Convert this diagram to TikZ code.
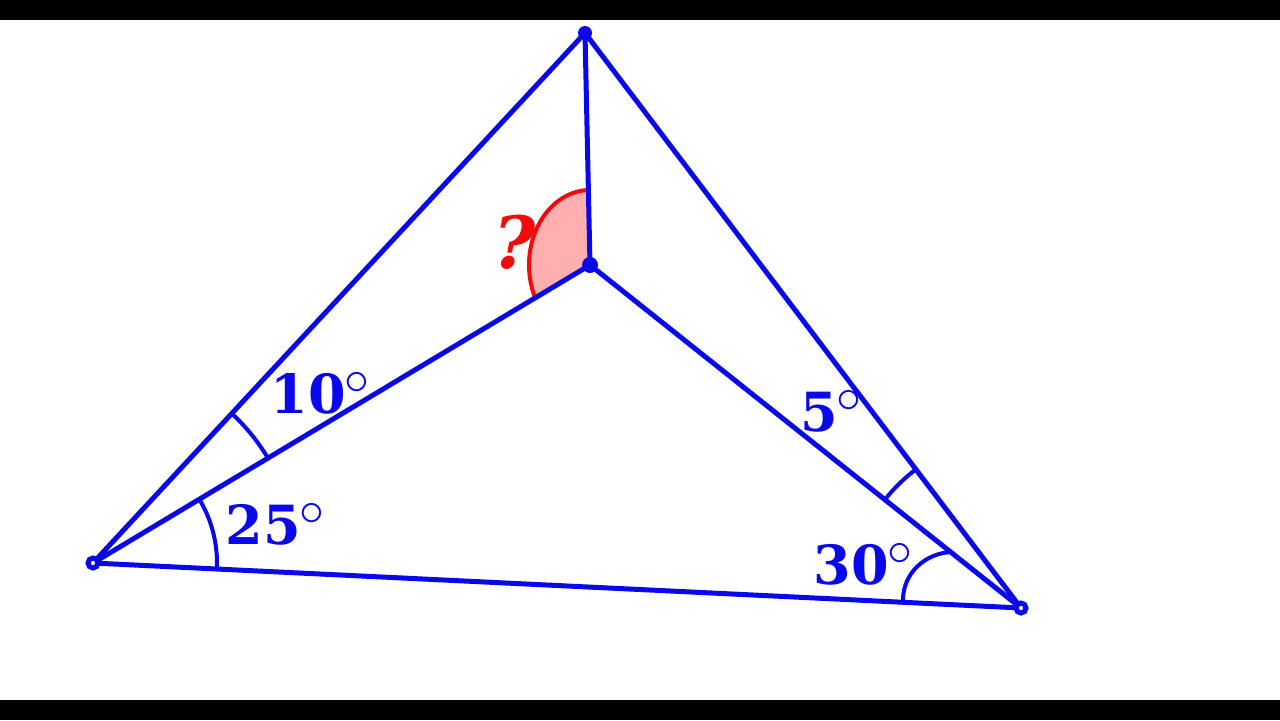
\documentclass[tikz,border=0pt]{standalone}
\usepackage{fontspec}
\setmainfont{DejaVu Serif}
\usetikzlibrary{angles}
\definecolor{figblue}{RGB}{8, 8, 235}
\definecolor{figred}{RGB}{245, 10, 10}
\definecolor{figpink}{RGB}{255, 175, 175}
\newcommand\degmark{\kern-1pt\raisebox{9.5pt}{\fontsize{24}{24}\selectfont$\circ$}}
\tikzset{
  edge/.style={figblue, line width=2.5pt, line cap=round},
  anglearc/.style={draw=figblue, line width=2pt},
  deglabel/.style={figblue, inner sep=0pt, font=\fontsize{27}{30}\selectfont\bfseries},
}

\begin{document}
\begin{tikzpicture}[x=0.5pt,y=0.5pt]
  \useasboundingbox (0,0) rectangle (1280,720);
  \fill[black] (0,700) rectangle (1280,720);
  \fill[black] (0,0) rectangle (1280,20);

  \coordinate (A) at (585,687);
  \coordinate (B) at (93,157);
  \coordinate (C) at (1021,112);
  \coordinate (P) at (590,455);

  % unknown angle at P
  \fill[figpink] (P) -- ++(205:61 and 75) arc[start angle=205, end angle=90, x radius=61, y radius=75] -- cycle;
  \draw[figred, line width=2pt] (P) ++(205:61 and 75) arc[start angle=205, end angle=90, x radius=61, y radius=75];

  % triangle and cevians
  \draw[edge] (A) -- (B) -- (C) -- cycle;
  \draw[edge] (P) -- (A);
  \draw[edge] (P) -- (B);
  \draw[edge] (P) -- (C);

  % angle marks
  \pic[anglearc, angle radius=102pt] {angle=P--B--A};
  \pic[anglearc, angle radius=62pt] {angle=C--B--P};
  \pic[anglearc, angle radius=87pt] {angle=A--C--P};
  \coordinate (c30a) at (903,120);
  \coordinate (c30b) at (952,168);
  \draw[anglearc] (c30a) to[out=90, in=182] (c30b);

  % points
  \fill[figblue] (A) circle (7);
  \fill[figblue] (P) circle (8);
  \filldraw[fill=white, draw=figblue, line width=2.5pt] (B) circle (5);
  \filldraw[fill=white, draw=figblue, line width=2.5pt] (C) circle (5);

  % labels
  \node[deglabel] (l10) at (320,327) {10\degmark};
  \node[deglabel] (l25) at (275,196) {25\degmark};
  \node[deglabel] (l5)  at (831,309) {5\degmark};
  \node[deglabel] (l30) at (863,156) {30\degmark};
  \node[figred, inner sep=0pt, font=\fontsize{36}{40}\selectfont\bfseries\itshape] (q) at (515,478) {?};
\end{tikzpicture}
\end{document}
